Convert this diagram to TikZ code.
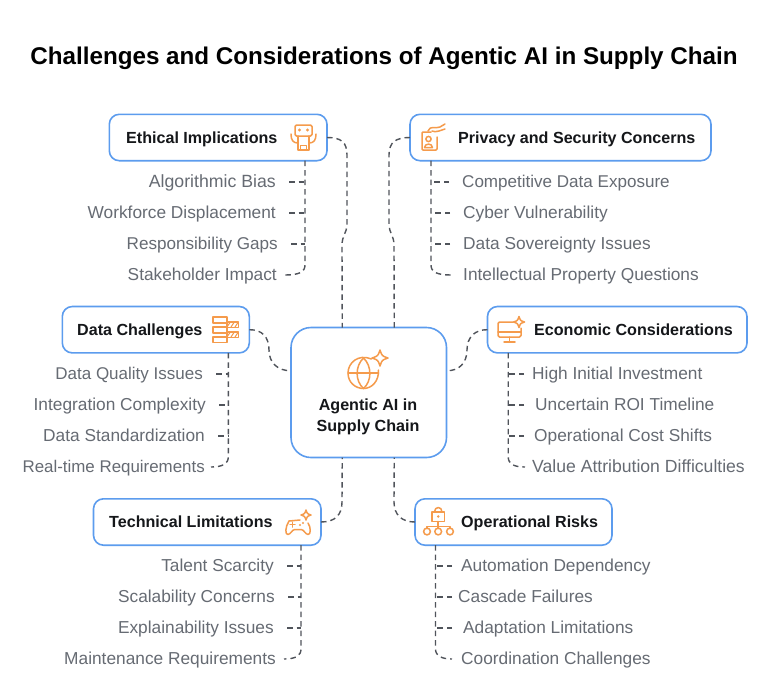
\documentclass[tikz,border=0pt]{standalone}
\usepackage{fontspec}
\setmainfont{Liberation Sans}
\definecolor{boxblue}{HTML}{5C9CEE}
\definecolor{iconor}{HTML}{F59B4C}
\definecolor{itemgray}{HTML}{666B73}
\definecolor{linkgray}{HTML}{50545B}
\definecolor{headink}{HTML}{15171A}
\tikzset{
  x=1pt,y=-1pt,
  headbox/.style={draw=boxblue,line width=1.6pt,rounded corners=10pt,fill=white,minimum height=46.4pt,inner sep=0pt,outer sep=0pt,anchor=north west},
  headtext/.style={text=headink,font=\fontsize{16.1}{19}\selectfont\bfseries,anchor=west,inner sep=0pt,text height=14pt,text depth=2.4pt},
  itemsize/.style={font=\fontsize{#1}{20}\selectfont},
  itemL/.style={text=itemgray,itemsize=17.3,anchor=east,inner ysep=0pt,inner xsep=13pt,text height=13.6pt,text depth=3pt},
  itemR/.style={text=itemgray,itemsize=17.3,anchor=west,inner ysep=0pt,inner xsep=13pt,text height=13.6pt,text depth=3pt},
  link/.style={draw=linkgray,line width=1.4pt,dash pattern=on 5.5pt off 4pt},
  ico/.style={draw=iconor,line width=1.5pt,line join=round,line cap=round},
}
\newcommand{\sparkle}[3]{% x y r
  \draw[ico] (#1,#2-#3) .. controls (#1+0.25*#3,#2-0.25*#3) .. (#1+#3,#2) .. controls (#1+0.25*#3,#2+0.25*#3) .. (#1,#2+#3) .. controls (#1-0.25*#3,#2+0.25*#3) .. (#1-#3,#2) .. controls (#1-0.25*#3,#2-0.25*#3) .. (#1,#2-#3) -- cycle;}
\begin{document}
\begin{tikzpicture}
\useasboundingbox[fill=white] (0,0) rectangle (768,681);
\node[font=\fontsize{24.2}{30}\selectfont\bfseries,text=black,inner sep=0pt] (title) at (384,58) {Challenges and Considerations of Agentic AI in Supply Chain};

% head boxes
\node[headbox,minimum width=217.7pt] (eth) at (109.3,114.3) {};
\node[headbox,minimum width=301pt] (pri) at (410,114.3) {};
\node[headbox,minimum width=187pt] (dat) at (62.3,306.5) {};
\node[headbox,minimum width=259.5pt] (eco) at (487.5,306.5) {};
\node[headbox,minimum width=227.5pt] (tec) at (93.5,498.8) {};
\node[headbox,minimum width=197pt] (opr) at (415,498.8) {};
\node[draw=boxblue,line width=1.6pt,rounded corners=20pt,fill=white,minimum width=155.5pt,minimum height=130pt,inner sep=0pt,outer sep=0pt,anchor=north west] (hub) at (291,327.5) {};

% head labels
\node[headtext] (ethl) at (126,137.5) {Ethical Implications};
\node[headtext] (pril) at (458,137.5) {Privacy and Security Concerns};
\node[headtext] (datl) at (77,329.5) {Data Challenges};
\node[headtext] (ecol) at (534,329.5) {Economic Considerations};
\node[headtext] (tecl) at (109,522) {Technical Limitations};
\node[headtext] (oprl) at (461,522) {Operational Risks};
\node[align=center,font=\fontsize{16.1}{21}\selectfont\bfseries,text=headink,inner sep=0pt] (hubl) at (368,416.5) {Agentic AI in\\Supply Chain};

% items: left columns
\node[itemL,itemsize=17.7] (e1) at (289,182) {Algorithmic Bias};
\node[itemL] (e2) at (289,213) {Workforce Displacement};
\node[itemL,itemsize=17.1] (e3) at (291,244) {Responsibility Gaps};
\node[itemL,inner xsep=8pt] (e4) at (285,275) {Stakeholder Impact};
\node[itemL,itemsize=17] (d1) at (216,374) {Data Quality Issues};
\node[itemL] (d2) at (219,405) {Integration Complexity};
\node[itemL] (d3) at (218,436) {Data Standardization};
\node[itemL,itemsize=16.9,inner xsep=6pt] (d4) at (211,467) {Real-time Requirements};
\node[itemL] (t1) at (287,566) {Talent Scarcity};
\node[itemL] (t2) at (288,597) {Scalability Concerns};
\node[itemL] (t3) at (287,628) {Explainability Issues};
\node[itemL,inner xsep=8pt] (t4) at (284,659) {Maintenance Requirements};
% items: right columns
\node[itemR,itemsize=17.05] (p1) at (449,182) {Competitive Data Exposure};
\node[itemR] (p2) at (450,213) {Cyber Vulnerability};
\node[itemR] (p3) at (450,244) {Data Sovereignty Issues};
\node[itemR,inner xsep=12pt] (p4) at (451,275) {Intellectual Property Questions};
\node[itemR,inner xsep=8pt] (c1) at (524,374) {High Initial Investment};
\node[itemR,inner xsep=11pt] (c2) at (524,405) {Uncertain ROI Timeline};
\node[itemR,inner xsep=10pt] (c3) at (524,436) {Operational Cost Shifts};
\node[itemR,itemsize=17.6,inner xsep=7pt] (c4) at (525,467) {Value Attribution Difficulties};
\node[itemR,inner xsep=9pt] (o1) at (452,566) {Automation Dependency};
\node[itemR,inner xsep=6pt] (o2) at (452,597) {Cascade Failures};
\node[itemR,inner xsep=11pt] (o3) at (452,628) {Adaptation Limitations};
\node[itemR,inner xsep=9pt] (o4) at (452,659) {Coordination Challenges};

% hub connectors
\draw[link] (eth.east) .. controls (341,137.5) and (347,142) .. (347,155) -- (347,225) .. controls (347,232) and (342,236) .. (342,245) -- ([xshift=-26.5pt]hub.north);
\draw[link] (pri.west) .. controls (396,137.5) and (389,142) .. (389,155) -- (389,225) .. controls (389,232) and (394,236) .. (394,245) -- ([xshift=25.5pt]hub.north);
\draw[link] (dat.east) .. controls (262,329.5) and (269,337) .. (269,350) .. controls (269,363) and (278,371) .. ([yshift=21.8pt]hub.west);
\draw[link] (eco.west) .. controls (475,329.5) and (467,337) .. (467,350) .. controls (467,363) and (459,371) .. ([yshift=21.8pt]hub.east);
\draw[link] (tec.east) .. controls (335,522) and (342,515) .. (342,502) -- ([xshift=-26.5pt]hub.south);
\draw[link] (opr.west) .. controls (402,522) and (394,515) .. (394,502) -- ([xshift=25.5pt]hub.south);

% branch connectors
\coordinate (eb) at ([xshift=86.85pt]eth.south);
\coordinate (pb) at ([xshift=-129.5pt]pri.south);
\coordinate (db) at ([xshift=72.5pt]dat.south);
\coordinate (cb) at ([xshift=-109pt]eco.south);
\coordinate (tb) at ([xshift=93.75pt]tec.south);
\coordinate (ob) at ([xshift=-78pt]opr.south);
\foreach \n in {e1,e2,e3} \draw[link] (\n.east) -- (\n.east -| eb);
\draw[link] (eb) -- (305,265) .. controls (305,272) and (299,275) .. (e4.east);
\foreach \n in {p1,p2,p3} \draw[link] (\n.west) -- (\n.west -| pb);
\draw[link] (pb) -- (431,265) .. controls (431,272) and (437,275) .. (p4.west);
\foreach \n in {d1,d2,d3} \draw[link] (\n.east) -- (\n.east -| db);
\draw[link] (db) -- (228.3,457) .. controls (228.3,464) and (222,467) .. (d4.east);
\foreach \n in {c1,c2,c3} \draw[link] (\n.west) -- (\n.west -| cb);
\draw[link] (cb) -- (508.25,457) .. controls (508.25,464) and (514,467) .. (c4.west);
\foreach \n in {t1,t2,t3} \draw[link] (\n.east) -- (\n.east -| tb);
\draw[link] (tb) -- (301,649) .. controls (301,656) and (295,659) .. (t4.east);
\foreach \n in {o1,o2,o3} \draw[link] (\n.west) -- (\n.west -| ob);
\draw[link] (ob) -- (435.5,649) .. controls (435.5,656) and (442,659) .. (o4.west);

% --- icons ---
% robot
\draw[ico,rounded corners=1.5pt] (295,125) rectangle (312,136);
\fill[iconor] (299.5,130) circle (1.6) (307.5,130) circle (1.6);
\draw[ico] (298,136) -- (298,150) -- (309,150) -- (309,136);
\draw[ico] (300.5,145.5) rectangle (306.5,150);
\draw[ico] (291,134) .. controls (291,140) and (293,143) .. (298,143);
\draw[ico] (316,134) .. controls (316,140) and (314,143) .. (309,143);
% id card and hand
\draw[ico,rounded corners=1pt] (437,137) -- (437,150) -- (422,150) -- (422,132) -- (431,132);
\draw[ico] (428.5,139) circle (2.6);
\draw[ico] (424.5,147.5) .. controls (424.5,143) and (432.5,143) .. (432.5,147.5) -- cycle;
\draw[ico] (428,131) .. controls (430,125) and (436,129) .. (440,127) -- (445,124);
\draw[ico] (432,131) .. controls (436,133) and (441,130) .. (445,129);
% data table
\draw[ico] (213,317) rectangle (227,323) (213,327) rectangle (227,333) (213,337) rectangle (227,342.5);
\draw[ico] (227,322) rectangle (238.5,327.5) (227,332) rectangle (238.5,337.5);
\foreach \a in {229,233,237}{\draw[ico,line width=1pt] (\a-2,327) -- (\a+1,322.5) (\a-2,337) -- (\a+1,332.5);}
% monitor
\draw[ico,rounded corners=1.5pt] (513,322) -- (498,322) -- (498,337) -- (521,337) -- (521,328);
\draw[ico] (498,332) -- (521,332) (509.5,337) -- (509.5,342) (504,342) -- (515,342);
\sparkle{519}{322}{5.5}
% gamepad
\draw[ico] (289,521) .. controls (285,527) and (285,535) .. (288,534.5) .. controls (291,534) and (292,529.5) .. (295,529.5) -- (301,529.5) .. controls (304,529.5) and (305,534) .. (308,534.5) .. controls (311,535) and (311,527) .. (308,523);
\draw[ico] (289,521) -- (300,520);
\draw[ico] (290,524.5) -- (295,524.5) (292.5,522) -- (292.5,527);
\fill[iconor] (300,525) circle (1.1) (303,523) circle (1.1);
\sparkle{306}{515}{5}
% org lock
\draw[ico] (432,512) rectangle (444.5,521.5);
\draw[ico] (434.5,512) .. controls (434.5,506) and (442,506) .. (442,512);
\fill[iconor] (438.2,516.5) circle (1.4);
\draw[ico] (438.2,521.5) -- (438.2,528.5) (427,528.5) -- (427,526.5) -- (450,526.5) -- (450,528.5);
\draw[ico] (427,531.5) circle (3.4) (438.2,531.5) circle (3.4) (450,531.5) circle (3.4);
% globe
\draw[ico] (371.5,359) .. controls (358,353.5) and (348,363) .. (348,373) .. controls (348,383) and (356,388.5) .. (363.5,388.5) .. controls (372,388.5) and (379,381) .. (378.5,370);
\draw[ico] (363.5,358) .. controls (355,366) and (355,381) .. (363.5,388.5) .. controls (372,381) and (372,366) .. (363.5,358);
\draw[ico] (348,373) -- (378.5,373);
\sparkle{380}{358}{8}
\end{tikzpicture}
\end{document}
